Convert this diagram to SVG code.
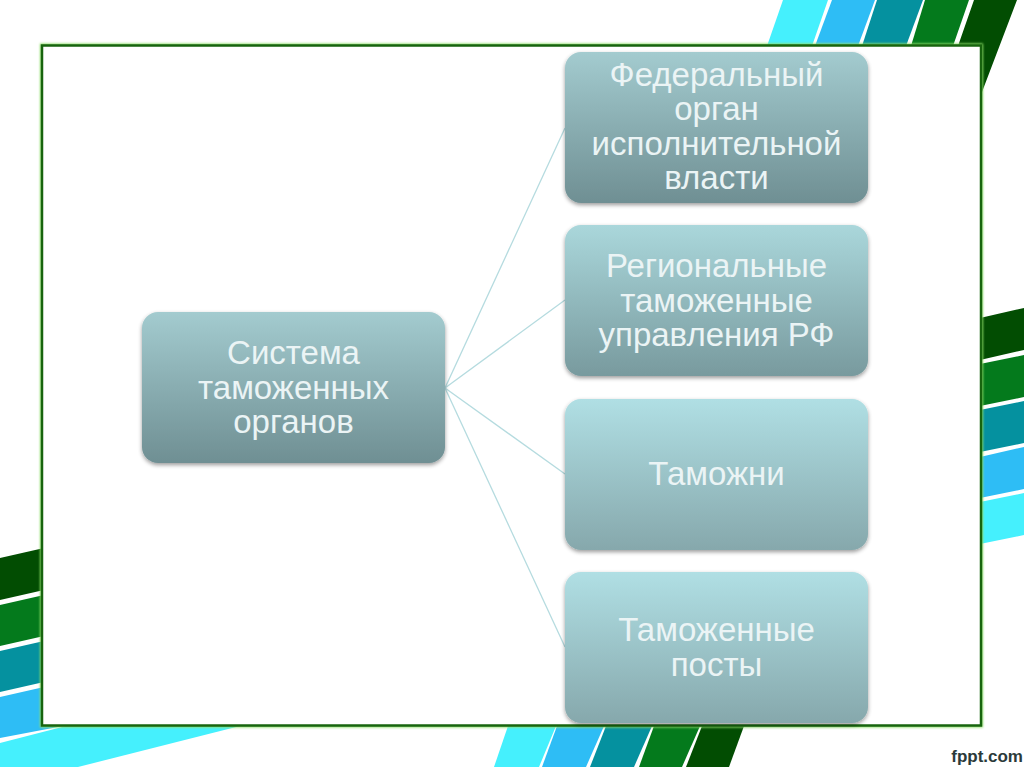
<svg xmlns="http://www.w3.org/2000/svg" width="1024" height="767" viewBox="0 0 1024 767">
<defs>
<linearGradient id="gA" x1="0" y1="0" x2="0" y2="1"><stop offset="0" stop-color="#a3cbcf"/><stop offset="1" stop-color="#6f8f93"/></linearGradient>
<linearGradient id="gB" x1="0" y1="0" x2="0" y2="1"><stop offset="0" stop-color="#aad7db"/><stop offset="1" stop-color="#789a9e"/></linearGradient>
<linearGradient id="gC" x1="0" y1="0" x2="0" y2="1"><stop offset="0" stop-color="#b0dfe4"/><stop offset="1" stop-color="#86a8ac"/></linearGradient>
<filter id="sh" x="-5%" y="-5%" width="110%" height="112%"><feGaussianBlur in="SourceAlpha" stdDeviation="2"/><feOffset dy="2"/><feComponentTransfer><feFuncA type="linear" slope="0.4"/></feComponentTransfer><feMerge><feMergeNode/><feMergeNode in="SourceGraphic"/></feMerge></filter>
<filter id="glow" x="-2%" y="-2%" width="104%" height="104%"><feGaussianBlur stdDeviation="1"/></filter>
</defs>
<style>
.c{fill:#45f0fd}.b{fill:#2ebdf5}.t{fill:#05919f}.g{fill:#047a1c}.d{fill:#024d02}
.box{filter:url(#sh)}
.lbl{font-family:"Liberation Sans",Arial,sans-serif;font-size:33px;fill:#ebf4f5;text-anchor:middle}
.ln{stroke:#b5dbdf;stroke-width:1.3;fill:none}
</style>
<rect width="1024" height="767" fill="#fff"/>
<g id="stripes">
<polygon class="c" points="783,0 828,0 812,46 767,46"/>
<polygon class="b" points="832,0 875,0 858,46 815,46"/>
<polygon class="t" points="877,0 923,0 906,46 862,46"/>
<polygon class="g" points="925,0 969,0 953,46 911,46"/>
<polygon class="d" points="974,0 1017,0 982,92 982,46 958,46"/>
<polygon class="d" points="980,318 1024,308 1024,350 980,360"/>
<polygon class="g" points="980,364 1024,355 1024,397 980,406"/>
<polygon class="t" points="980,410 1024,401 1024,443 980,452"/>
<polygon class="b" points="980,457 1024,447 1024,489 980,498"/>
<polygon class="c" points="980,502 1024,493 1024,535 980,544"/>
<polygon class="d" points="0,558 44,548 44,590 0,600"/>
<polygon class="g" points="0,605 44,595 44,636 0,646"/>
<polygon class="t" points="0,651 44,641 44,682 0,692"/>
<polygon class="b" points="0,697 44,687 44,726 63,726 0,738"/>
<polygon class="c" points="0,743 66,726 240,726 78,767 0,767"/>
<polygon class="c" points="508,726 556,726 539,767 494,767"/>
<polygon class="b" points="557,726 604,726 586,767 542,767"/>
<polygon class="t" points="606,726 652,726 634,767 590,767"/>
<polygon class="g" points="654,726 700,726 682,767 639,767"/>
<polygon class="d" points="702,726 744,726 729,767 686,767"/>
</g>
<rect x="42" y="45.500" width="939" height="680" fill="none" stroke="#8fe06a" stroke-width="4" filter="url(#glow)"/>
<rect id="frame" x="42" y="45.500" width="939" height="680" fill="#fff" stroke="#17640e" stroke-width="2.500"/>
<g id="connectors">
<line class="ln" x1="445" y1="388" x2="565" y2="128"/>
<line class="ln" x1="445" y1="388" x2="565" y2="300"/>
<line class="ln" x1="445" y1="388" x2="565" y2="474"/>
<line class="ln" x1="445" y1="388" x2="565" y2="647"/>
</g>
<g id="node-root"><rect class="box" x="142" y="312" width="303" height="151" rx="16" fill="url(#gA)"/>
<text class="lbl" x="293.500" y="364">Система</text><text class="lbl" x="293.500" y="399">таможенных</text><text class="lbl" x="293.500" y="433">органов</text></g>
<g id="node-1"><rect class="box" x="565" y="52" width="303" height="151" rx="16" fill="url(#gA)"/>
<text class="lbl" x="716.500" y="86">Федеральный</text><text class="lbl" x="716.500" y="120">орган</text><text class="lbl" x="716.500" y="155">исполнительной</text><text class="lbl" x="716.500" y="189">власти</text></g>
<g id="node-2"><rect class="box" x="565" y="225" width="303" height="151" rx="16" fill="url(#gB)"/>
<text class="lbl" x="716.500" y="277">Региональные</text><text class="lbl" x="716.500" y="312">таможенные</text><text class="lbl" x="716.500" y="346">управления РФ</text></g>
<g id="node-3"><rect class="box" x="565" y="399" width="303" height="151" rx="16" fill="url(#gC)"/>
<text class="lbl" x="716.500" y="485">Таможни</text></g>
<g id="node-4"><rect class="box" x="565" y="572" width="303" height="151" rx="16" fill="url(#gC)"/>
<text class="lbl" x="716.500" y="641">Таможенные</text><text class="lbl" x="716.500" y="676">посты</text></g>
<text x="1023" y="762" text-anchor="end" font-family="Liberation Sans,Arial,sans-serif" font-size="17" font-weight="bold" fill="#2b3a3a">fppt.com</text>
</svg>
